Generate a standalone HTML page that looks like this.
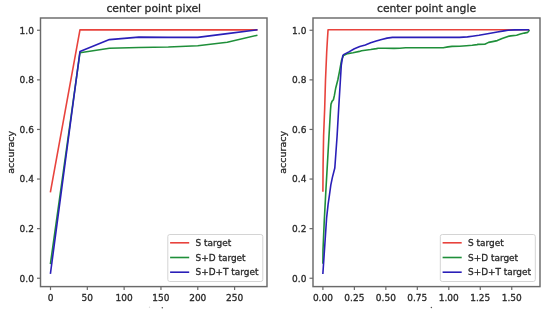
<!DOCTYPE html>
<html><head><meta charset="utf-8"><title>center point accuracy</title>
<style>
html,body{margin:0;padding:0;background:#fff;width:550px;height:311px;overflow:hidden}
svg{display:block}

.t{font-family:'DejaVu Sans', 'Liberation Sans', sans-serif;font-size:9px;fill:#2a2a2a;stroke:#2a2a2a;stroke-width:0.3px}
.lg{font-family:'DejaVu Sans', 'Liberation Sans', sans-serif;font-size:8.93px;fill:#2a2a2a;stroke:#2a2a2a;stroke-width:0.3px}
.yl{font-family:'DejaVu Sans', 'Liberation Sans', sans-serif;font-size:9.5px;fill:#2a2a2a;stroke:#2a2a2a;stroke-width:0.3px}
.title{font-family:'DejaVu Sans', 'Liberation Sans', sans-serif;font-size:10.8px;fill:#2a2a2a;stroke:#2a2a2a;stroke-width:0.3px}
</style></head><body>
<div id="w"><svg width="550" height="311" viewBox="0 0 550 311"><rect width="550" height="311" fill="#ffffff"/><polyline points="50.50,191.54 79.96,29.90 256.69,29.90" fill="none" stroke="#e8433d" stroke-width="1.6" stroke-linejoin="round" stroke-linecap="square"/><polyline points="50.50,263.30 79.96,52.74 109.41,48.27 138.87,47.53 168.32,47.03 197.78,45.79 227.24,42.31 256.69,35.36" fill="none" stroke="#1f8f3a" stroke-width="1.6" stroke-linejoin="round" stroke-linecap="square"/><polyline points="50.50,272.99 79.96,51.50 109.41,39.58 138.87,37.10 168.32,37.35 197.78,37.35 227.24,33.62 256.69,29.90" fill="none" stroke="#2a1fb8" stroke-width="1.6" stroke-linejoin="round" stroke-linecap="square"/><rect x="40.5" y="18.0" width="226.50" height="268.60" fill="none" stroke="#6a6a6a" stroke-width="1.45"/><line x1="37.00" y1="278.24" x2="40.5" y2="278.24" stroke="#6a6a6a" stroke-width="1.2"/><text x="33.90" y="281.54" text-anchor="end" class="t">0.0</text><line x1="37.00" y1="228.64" x2="40.5" y2="228.64" stroke="#6a6a6a" stroke-width="1.2"/><text x="33.90" y="231.94" text-anchor="end" class="t">0.2</text><line x1="37.00" y1="179.05" x2="40.5" y2="179.05" stroke="#6a6a6a" stroke-width="1.2"/><text x="33.90" y="182.35" text-anchor="end" class="t">0.4</text><line x1="37.00" y1="129.45" x2="40.5" y2="129.45" stroke="#6a6a6a" stroke-width="1.2"/><text x="33.90" y="132.75" text-anchor="end" class="t">0.6</text><line x1="37.00" y1="79.86" x2="40.5" y2="79.86" stroke="#6a6a6a" stroke-width="1.2"/><text x="33.90" y="83.16" text-anchor="end" class="t">0.8</text><line x1="37.00" y1="30.26" x2="40.5" y2="30.26" stroke="#6a6a6a" stroke-width="1.2"/><text x="33.90" y="33.56" text-anchor="end" class="t">1.0</text><line x1="50.50" y1="286.6" x2="50.50" y2="290.10" stroke="#6a6a6a" stroke-width="1.2"/><text x="50.50" y="301.0" text-anchor="middle" class="t">0</text><line x1="87.32" y1="286.6" x2="87.32" y2="290.10" stroke="#6a6a6a" stroke-width="1.2"/><text x="87.32" y="301.0" text-anchor="middle" class="t">50</text><line x1="124.14" y1="286.6" x2="124.14" y2="290.10" stroke="#6a6a6a" stroke-width="1.2"/><text x="124.14" y="301.0" text-anchor="middle" class="t">100</text><line x1="160.96" y1="286.6" x2="160.96" y2="290.10" stroke="#6a6a6a" stroke-width="1.2"/><text x="160.96" y="301.0" text-anchor="middle" class="t">150</text><line x1="197.78" y1="286.6" x2="197.78" y2="290.10" stroke="#6a6a6a" stroke-width="1.2"/><text x="197.78" y="301.0" text-anchor="middle" class="t">200</text><line x1="234.60" y1="286.6" x2="234.60" y2="290.10" stroke="#6a6a6a" stroke-width="1.2"/><text x="234.60" y="301.0" text-anchor="middle" class="t">250</text><text x="153.75" y="11.8" text-anchor="middle" class="title">center point pixel</text><text transform="translate(13.6,152.3) rotate(-90)" text-anchor="middle" class="yl">accuracy</text><rect x="167.80" y="234.5" width="95.0" height="47.0" rx="2" fill="#ffffff" fill-opacity="0.8" stroke="#d4d4d4" stroke-width="1"/><line x1="170.10" y1="242.80" x2="189.20" y2="242.80" stroke="#e8433d" stroke-width="1.6"/><text x="195.60" y="246.40" class="lg">S target</text><line x1="170.10" y1="257.50" x2="189.20" y2="257.50" stroke="#1f8f3a" stroke-width="1.6"/><text x="195.60" y="260.90" class="lg">S+D target</text><line x1="170.10" y1="272.20" x2="189.20" y2="272.20" stroke="#2a1fb8" stroke-width="1.6"/><text x="195.60" y="275.40" class="lg">S+D+T target</text><polyline points="322.90,190.90 323.10,164.00 323.60,136.00 324.70,108.00 325.50,80.00 326.70,52.00 327.40,40.00 328.05,29.80 528.50,29.80" fill="none" stroke="#e8433d" stroke-width="1.6" stroke-linejoin="round" stroke-linecap="square"/><polyline points="322.90,263.00 323.00,250.00 324.30,220.00 325.80,192.00 327.40,164.00 329.00,136.00 330.50,110.00 331.00,104.10 332.00,101.40 333.40,99.80 334.40,95.40 335.80,87.70 337.80,80.00 339.50,71.30 341.60,60.00 343.50,55.50 347.60,53.60 353.00,52.70 359.40,51.40 361.60,50.70 370.70,49.50 376.40,48.60 378.30,48.20 385.30,48.20 394.00,48.40 399.80,48.20 405.60,47.70 424.00,47.80 443.20,47.80 448.00,46.90 452.00,46.40 459.60,46.30 466.40,45.80 472.20,45.30 477.00,44.60 478.00,44.40 484.80,44.30 488.60,42.40 492.50,41.60 497.30,40.60 502.10,38.60 505.00,37.50 508.00,36.40 510.80,35.90 516.60,35.20 520.40,34.10 524.30,33.10 527.70,32.40 529.00,30.60" fill="none" stroke="#1f8f3a" stroke-width="1.6" stroke-linejoin="round" stroke-linecap="square"/><polyline points="322.90,273.20 324.60,248.00 326.60,218.00 328.10,204.40 329.50,194.70 330.80,185.10 332.40,177.40 334.80,168.00 335.10,164.00 337.10,136.00 338.70,108.00 340.40,80.00 341.30,65.00 342.80,55.60 343.50,54.60 348.90,51.90 354.40,48.70 359.80,46.60 365.30,44.90 370.70,42.80 376.20,41.10 381.60,39.50 387.10,38.10 392.50,37.40 459.60,37.40 467.40,36.90 472.20,36.20 479.00,35.20 487.60,33.70 497.30,32.00 504.00,30.90 508.00,30.20 514.60,29.90 528.30,29.70" fill="none" stroke="#2a1fb8" stroke-width="1.6" stroke-linejoin="round" stroke-linecap="square"/><rect x="313.0" y="18.0" width="227.00" height="268.60" fill="none" stroke="#6a6a6a" stroke-width="1.45"/><line x1="309.50" y1="278.24" x2="313.0" y2="278.24" stroke="#6a6a6a" stroke-width="1.2"/><text x="306.40" y="281.54" text-anchor="end" class="t">0.0</text><line x1="309.50" y1="228.64" x2="313.0" y2="228.64" stroke="#6a6a6a" stroke-width="1.2"/><text x="306.40" y="231.94" text-anchor="end" class="t">0.2</text><line x1="309.50" y1="179.05" x2="313.0" y2="179.05" stroke="#6a6a6a" stroke-width="1.2"/><text x="306.40" y="182.35" text-anchor="end" class="t">0.4</text><line x1="309.50" y1="129.45" x2="313.0" y2="129.45" stroke="#6a6a6a" stroke-width="1.2"/><text x="306.40" y="132.75" text-anchor="end" class="t">0.6</text><line x1="309.50" y1="79.86" x2="313.0" y2="79.86" stroke="#6a6a6a" stroke-width="1.2"/><text x="306.40" y="83.16" text-anchor="end" class="t">0.8</text><line x1="309.50" y1="30.26" x2="313.0" y2="30.26" stroke="#6a6a6a" stroke-width="1.2"/><text x="306.40" y="33.56" text-anchor="end" class="t">1.0</text><line x1="322.90" y1="286.6" x2="322.90" y2="290.10" stroke="#6a6a6a" stroke-width="1.2"/><text x="322.90" y="301.0" text-anchor="middle" class="t">0.00</text><line x1="354.38" y1="286.6" x2="354.38" y2="290.10" stroke="#6a6a6a" stroke-width="1.2"/><text x="354.38" y="301.0" text-anchor="middle" class="t">0.25</text><line x1="385.85" y1="286.6" x2="385.85" y2="290.10" stroke="#6a6a6a" stroke-width="1.2"/><text x="385.85" y="301.0" text-anchor="middle" class="t">0.50</text><line x1="417.32" y1="286.6" x2="417.32" y2="290.10" stroke="#6a6a6a" stroke-width="1.2"/><text x="417.32" y="301.0" text-anchor="middle" class="t">0.75</text><line x1="448.80" y1="286.6" x2="448.80" y2="290.10" stroke="#6a6a6a" stroke-width="1.2"/><text x="448.80" y="301.0" text-anchor="middle" class="t">1.00</text><line x1="480.27" y1="286.6" x2="480.27" y2="290.10" stroke="#6a6a6a" stroke-width="1.2"/><text x="480.27" y="301.0" text-anchor="middle" class="t">1.25</text><line x1="511.75" y1="286.6" x2="511.75" y2="290.10" stroke="#6a6a6a" stroke-width="1.2"/><text x="511.75" y="301.0" text-anchor="middle" class="t">1.50</text><text x="426.50" y="11.8" text-anchor="middle" class="title">center point angle</text><text transform="translate(286.1,152.3) rotate(-90)" text-anchor="middle" class="yl">accuracy</text><rect x="440.30" y="234.5" width="95.0" height="47.0" rx="2" fill="#ffffff" fill-opacity="0.8" stroke="#d4d4d4" stroke-width="1"/><line x1="442.60" y1="242.80" x2="461.70" y2="242.80" stroke="#e8433d" stroke-width="1.6"/><text x="468.10" y="246.40" class="lg">S target</text><line x1="442.60" y1="257.50" x2="461.70" y2="257.50" stroke="#1f8f3a" stroke-width="1.6"/><text x="468.10" y="260.90" class="lg">S+D target</text><line x1="442.60" y1="272.20" x2="461.70" y2="272.20" stroke="#2a1fb8" stroke-width="1.6"/><text x="468.10" y="275.40" class="lg">S+D+T target</text><circle cx="149.5" cy="307.2" r="0.7" fill="#d8d8d8"/><circle cx="162.3" cy="307.7" r="0.75" fill="#555"/><circle cx="431.4" cy="307.6" r="0.75" fill="#555"/></svg></div>
</body></html>
